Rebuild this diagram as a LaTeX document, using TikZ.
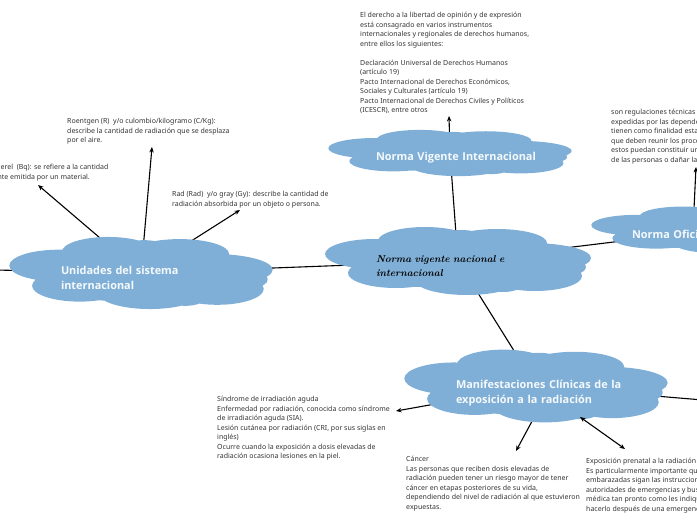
\documentclass[tikz,border=0pt]{standalone}
\usepackage{fontspec}
\setsansfont{Noto Sans}
\newfontfamily\titlefont{Open Sans}
\usetikzlibrary{backgrounds,calc,arrows.meta}
\definecolor{cloudblue}{HTML}{7FAFD6}
\definecolor{bodytext}{HTML}{333333}
\newcommand{\cloudat}[4]{%
  \begin{scope}[shift={(#1,#2)},xscale=#3,yscale=#4]
    \fill[cloudblue]
      (-83,-7) ellipse [x radius=50,y radius=15]
      (-33,-20) ellipse [x radius=47,y radius=14]
      (39,-18) ellipse [x radius=50,y radius=14]
      (72,-3) ellipse [x radius=61,y radius=15]
      (-62,12) ellipse [x radius=48,y radius=15]
      (9,19) ellipse [x radius=52,y radius=15]
      (77,15) ellipse [x radius=47,y radius=15]
      (0,0) ellipse [x radius=100,y radius=25]
      (3,-24) ellipse [x radius=22,y radius=7]
      (-38,18) ellipse [x radius=20,y radius=8]
      (45,23) ellipse [x radius=20,y radius=8]
      (116,6) ellipse [x radius=12,y radius=7];
  \end{scope}}
\tikzset{
  note/.style={anchor=north west,inner sep=0pt,align=left,text=bodytext,
    font=\sffamily\fontsize{7}{9.5}\selectfont},
  title/.style={inner sep=0pt,align=left,text=white!92!cloudblue,
    font=\titlefont\bfseries\fontsize{10.9}{15}\selectfont},
  maintitle/.style={inner sep=0pt,align=left,text=black,
    font=\rmfamily\bfseries\itshape\fontsize{10}{14}\selectfont},
  link/.style={draw=black,line width=1.1pt},
  arrowlink/.style={link,-{Stealth[length=5.5pt,width=4.5pt]}},
  bothlink/.style={link,{Stealth[length=5.5pt,width=4.5pt]}-{Stealth[length=5.5pt,width=4.5pt]}}
}
\begin{document}
\begin{tikzpicture}[x=1pt,y=-1pt]
\useasboundingbox (0,0) rectangle (697,520);

\cloudat{458}{261}{1}{1}
\cloudat{141}{273}{.99}{1.06}
\cloudat{450}{153}{.915}{.68}
\cloudat{536}{386}{.99}{1.07}
\cloudat{713}{230}{.915}{.69}

\node[maintitle,text width=164pt] (main) at (458,261) {\rule{0pt}{18pt}Norma vigente nacional e\\internacional};
\node[title,text width=160pt] (unid) at (141,273) {\rule{0pt}{18pt}Unidades del sistema\\internacional};
\node[title,text width=148pt] (vig) at (450,153) {\rule{0pt}{18pt}\hspace*{0pt}\mbox{Norma Vigente Internacional}};
\node[title,text width=160pt] (mani) at (536,386) {\rule{0pt}{22pt}\mbox{Manifestaciones Clínicas de la}\\exposición a la radiación};
\node[title,text width=160pt] (ofic) at (712,230) {\rule{0pt}{17pt}Norma Oficial};

\node[note] (tvig) at (360,12) {El derecho a la libertad de opinión y de expresión\\está consagrado en varios instrumentos\\internacionales y regionales de derechos humanos,\\entre ellos los siguientes:\\[9.5pt]Declaración Universal de Derechos Humanos\\(artículo 19)\\Pacto Internacional de Derechos Económicos,\\Sociales y Culturales (artículo 19)\\Pacto Internacional de Derechos Civiles y Políticos\\(ICESCR), entre otros};
\node[note] (troe) at (67,118) {Roentgen (R)\ \ y/o culombio/kilogramo (C/Kg):\\describe la cantidad de radiación que se desplaza\\por el aire.};
\node[note] (tbec) at (-20,164) {Becquerel\ \ (Bq): se refiere a la cantidad\\\hspace*{-25pt}radiactivamente emitida por un material.};
\node[note] (trad) at (172,191) {Rad (Rad)\ \ y/o gray (Gy): describe la cantidad de\\radiación absorbida por un objeto o persona.};
\node[note] (tsin) at (217,396) {Síndrome de irradiación aguda\\Enfermedad por radiación, conocida como síndrome\\de irradiación aguda (SIA).\\Lesión cutánea por radiación (CRI, por sus siglas en\\inglés)\\Ocurre cuando la exposición a dosis elevadas de\\radiación ocasiona lesiones en la piel.};
\node[note] (tcan) at (406,456) {Cáncer\\Las personas que reciben dosis elevadas de\\radiación pueden tener un riesgo mayor de tener\\cáncer en etapas posteriores de su vida,\\dependiendo del nivel de radiación al que estuvieron\\expuestas.};
\node[note] (tpre) at (586,458) {Exposición prenatal a la radiación\\Es particularmente importante que\\embarazadas sigan las instrucciones\\autoridades de emergencias y busquen\\médica tan pronto como les indiquen\\hacerlo después de una emergencia};
\node[note] (tofi) at (611,109) {son regulaciones técnicas\\expedidas por las dependencias\\tienen como finalidad establecer\\que deben reunir los procesos\\estos puedan constituir un\\de las personas o dañar la};

\coordinate (avig) at (449,116);
\coordinate (abec) at (38,185);
\coordinate (aroe) at (152,147);
\coordinate (arad) at (240,210);
\coordinate (asin) at (396,411);
\coordinate (acan) at (516,451);
\coordinate (acans) at (551,386);
\coordinate (apre1) at (580,417);
\coordinate (apre2) at (625,449);
\coordinate (aoff) at (697,399.5);
\coordinate (aleft) at (-5,270);
\coordinate (aofi) at (696,167);
\coordinate (aofis) at (693,230);

\draw[bothlink] (apre1) -- (apre2);
\begin{scope}[on background layer]
  \draw[link] (main) -- (vig);
  \draw[link] (main) -- (unid);
  \draw[link] (main) -- (ofic);
  \draw[link] (main) -- (mani);
  \draw[arrowlink] (vig) -- (avig);
  \draw[arrowlink] (unid) -- (abec);
  \draw[arrowlink] (unid) -- (aroe);
  \draw[arrowlink] (unid) -- (arad);
  \draw[link] (unid) -- (aleft);
  \draw[arrowlink] (mani) -- (asin);
  \draw[arrowlink] (acans) -- (acan);
  \draw[link] (mani) -- (aoff);
  \draw[arrowlink] (aofis) -- (aofi);
\end{scope}
\end{tikzpicture}
\end{document}
